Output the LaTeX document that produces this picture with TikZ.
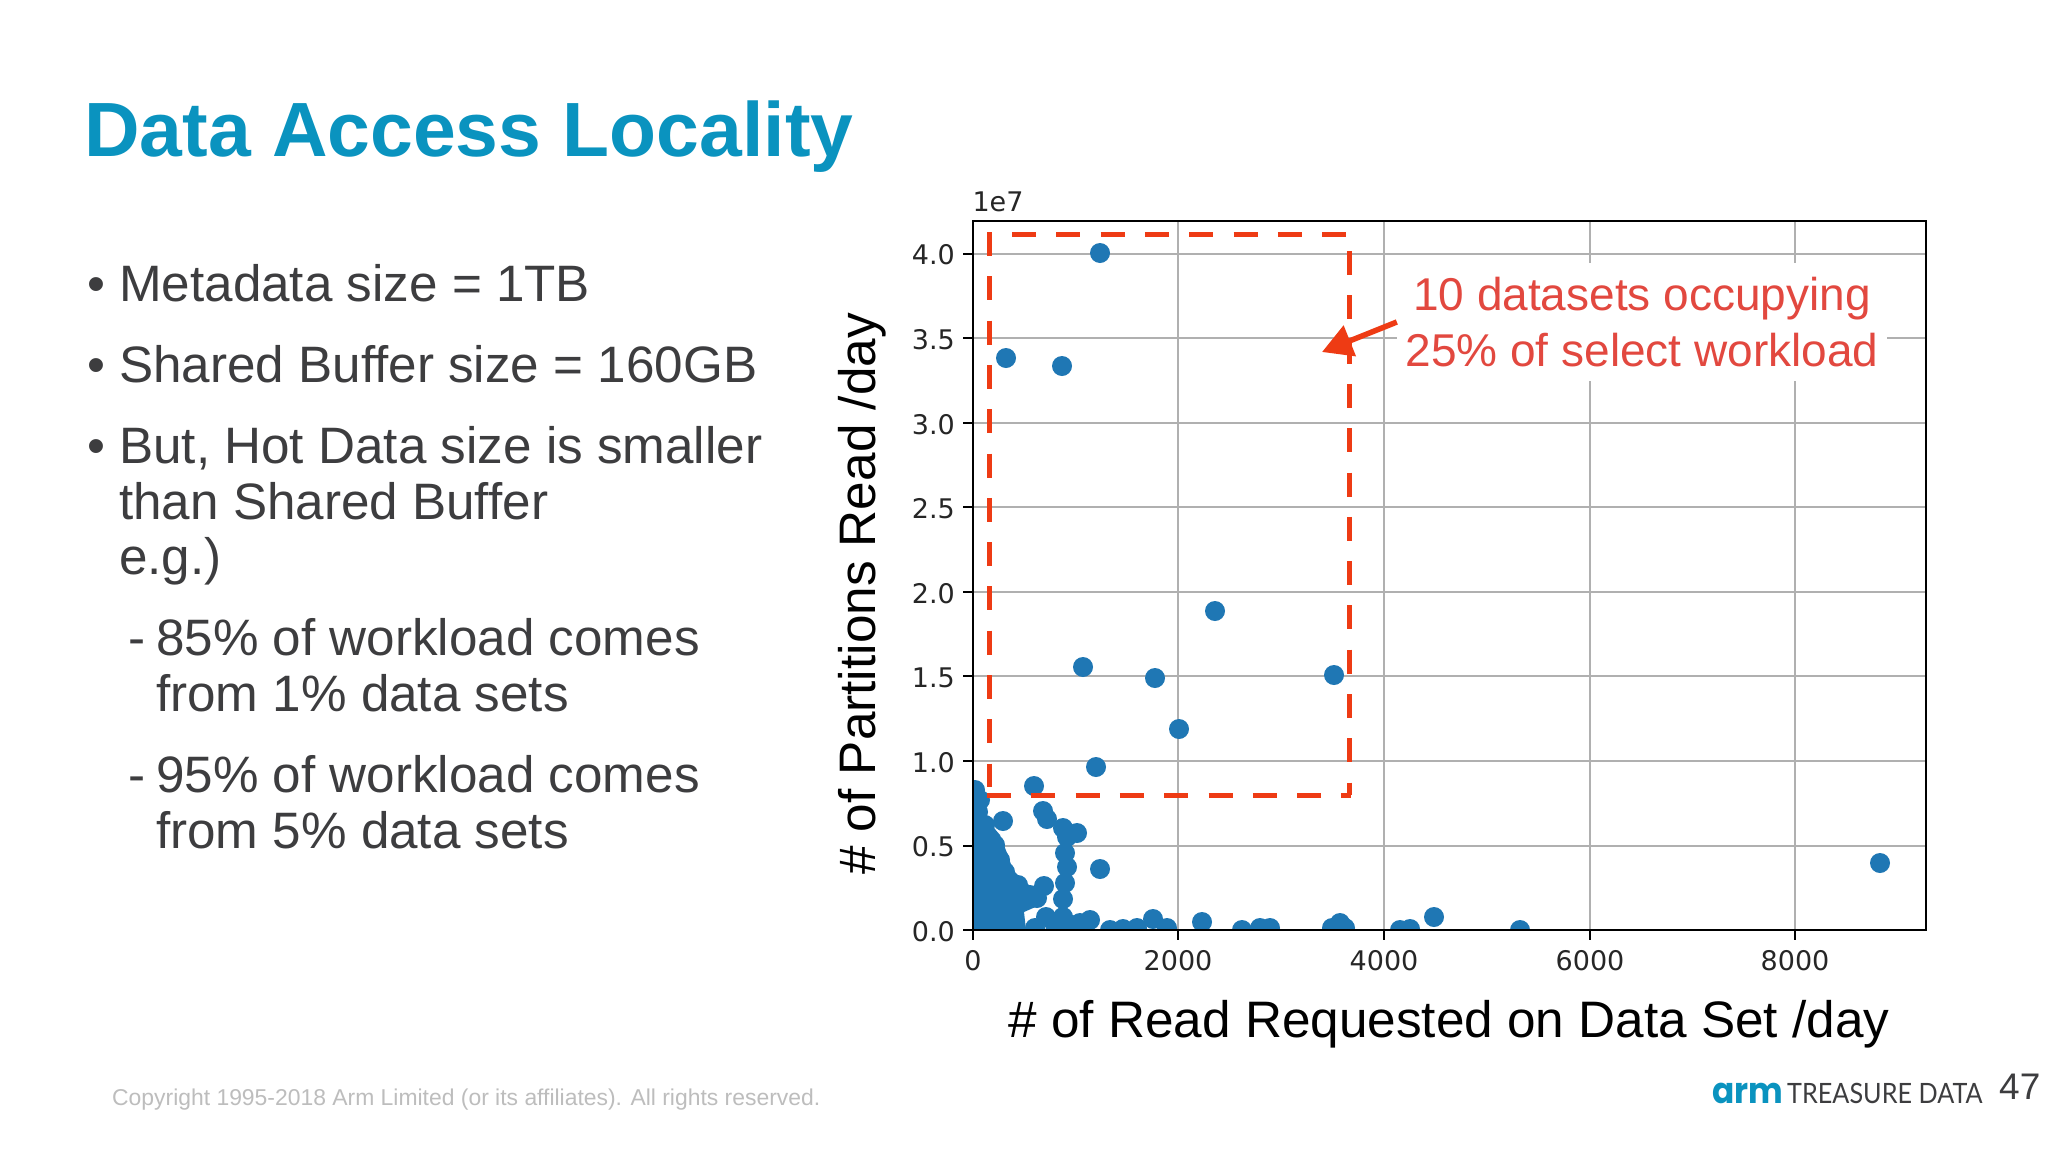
\documentclass[tikz,border=0pt]{standalone}
\usepackage{fontspec}
\setmainfont{Liberation Sans}
\newfontfamily\ticksfont{DejaVu Sans}
\newfontfamily\logofont{Poppins}
\newfontfamily\logotextfont{Lato}
\usetikzlibrary{arrows.meta,calc}
\definecolor{titleblue}{HTML}{0A93BF}
\definecolor{bodygray}{HTML}{3D3D3F}
\definecolor{dotblue}{HTML}{1F77B4}
\definecolor{gridgray}{HTML}{B0B0B0}
\definecolor{boxred}{HTML}{EE3B14}
\definecolor{notered}{HTML}{E2483F}
\definecolor{footgray}{HTML}{BDBDBD}
\tikzstyle{lineh}=[inner sep=0pt, anchor=base west]
\tikzstyle{body}=[lineh, text=bodygray, font=\fontsize{51.2}{56}\selectfont]
\tikzstyle{tick}=[inner sep=0pt, text=black!85, font=\ticksfont\fontsize{27}{30}\selectfont]
\tikzstyle{axlabel}=[inner sep=0pt, text=black, font=\fontsize{51.3}{56}\selectfont]
\tikzstyle{dashbox}=[boxred, line width=5pt, dash pattern=on 24pt off 20.3pt]
\begin{document}
\begin{tikzpicture}[x=1pt, y=-1pt]
\useasboundingbox (0,0) rectangle (2048,1152);
\fill[white] (0,0) rectangle (2048,1152);

% title and bullets
\node(title)[lineh, text=titleblue, font=\bfseries\fontsize{76.9}{80}\selectfont] at (84,156) {Data Access Locality};
\node(dot1)[body] at (87,301.5) {•};
\node(item1)[body] at (119,301.5) {Metadata size = 1TB};
\node(dot2)[body] at (87,382.5) {•};
\node(item2)[body] at (119,382.5) {Shared Buffer size = 160GB};
\node(dot3)[body] at (87,463.5) {•};
\node(item3a)[body] at (119,463.5) {But, Hot Data size is smaller};
\node(item3b)[body] at (119,519.5) {than Shared Buffer};
\node(item3c)[body] at (119,574.5) {e.g.)};
\node(dash1)[body] at (128,655.5) {-};
\node(sub1a)[body] at (156,655.5) {85\% of workload comes};
\node(sub1b)[body] at (156,711) {from 1\% data sets};
\node(dash2)[body] at (128,792.5) {-};
\node(sub2a)[body] at (156,792.5) {95\% of workload comes};
\node(sub2b)[body] at (156,848) {from 5\% data sets};

% grid and ticks
\foreach \xx/\xlab in {973/0,1178/2000,1384/4000,1590/6000,1795/8000}{
  \draw[gridgray, line width=2pt] (\xx,221) -- (\xx,930);
  \draw[black, line width=2pt] (\xx,930) -- (\xx,940);
  \node(xtick\xlab)[tick] at (\xx,961) {\xlab};
}
\foreach \yy/\ylab [count=\n] in {930/0.0,845.5/0.5,761/1.0,676/1.5,592/2.0,507/2.5,423/3.0,338/3.5,253.5/4.0}{
  \draw[gridgray, line width=2pt] (973,\yy) -- (1926,\yy);
  \draw[black, line width=2pt] (963,\yy) -- (973,\yy);
  \node(ytick\n)[tick, anchor=east] at (955,\yy+1.5) {\ylab};
}
\node(offset)[tick] at (998,202) {1e7};

% data points
\begin{scope}
\clip (973,221) rectangle (1926,930);
\fill[dotblue] (973,930) -- (973,815) -- (983,815) -- (1000,835) -- (1007,853) -- (1013,870) -- (1025,882) -- (1040,893) -- (1040,905) -- (1024,912) -- (1026,930) -- cycle;
\foreach \px/\py in {975/790,980/800,978/812,985/825,995/845,1000/860,1005/872,1018/885,1030/895,1037/898,
  1100/253,1006/358,1062/366,1215/611,1334/675,1083/667,1155/678,1179/729,1096/767,1880/863,1434/917,1520/930,
  1034/786,1003/821,1043/811,1047/819,1063/828,1077/833,1067/837,1065/853,1067/867,1100/869,1065/883,1063/899,
  1044/886,1046/917,1063/917,1090/920,1153/919,1167/928,1202/922,1242/930,1260/928,1270/928,1332/928,1340/923,
  1345/928,1400/930,1410/929,1110/930,1123/929,1137/928,1080/923,1055/925,1072/925,1035/928}{
  \fill[dotblue] (\px,\py) circle (10pt);
}
\end{scope}

% axes frame
\draw[black, line width=2.5pt] (973,221) rectangle (1926,930);

% red annotation
\coordinate(boxtop1) at (1012,234);
\coordinate(boxtop2) at (1346,234);
\coordinate(boxright1) at (1349,251);
\coordinate(boxright2) at (1349,795);
\coordinate(boxbot1) at (987,795);
\coordinate(boxbot2) at (1351,795);
\coordinate(boxleft1) at (989,232);
\coordinate(boxleft2) at (989,787);
\draw[dashbox] (boxtop1) -- (boxtop2);
\draw[dashbox] (boxright1) -- (boxright2);
\draw[dashbox] (boxbot1) -- (boxbot2);
\draw[dashbox] (boxleft1) -- (boxleft2);
\node(note)[fill=white, inner sep=0pt, minimum width=490pt, minimum height=118pt, text=notered, align=center, font=\fontsize{46}{56}\selectfont] at (1642,322) {10 datasets occupying\\25\% of select workload};
\coordinate(notetip) at (1322,352);
\draw[-{Triangle[length=30pt,width=32pt]}, boxred, line width=5.5pt] (note.west) -- (notetip);

% axis labels
\node(ylabel)[axlabel, rotate=90] at (862,594) {\# of Partitions Read /day};
\node(xlabel)[axlabel] at (1449,1024) {\# of Read Requested on Data Set /day};

% footer
\node(copyright)[lineh, text=footgray, font=\fontsize{22.9}{26}\selectfont] at (112,1105) {Copyright 1995-2018 Arm Limited (or its affiliates). All rights reserved.};
\node(armlogo)[lineh, text=titleblue, xscale=0.91, font=\logofont\bfseries\fontsize{36}{40}\selectfont] at (1712,1103) {arm};
\node(tdlogo)[lineh, text=bodygray, xscale=0.9, font=\logotextfont\fontsize{28}{30}\selectfont] at (1787,1103) {TREASURE DATA};
\node(pageno)[lineh, text=bodygray, font=\fontsize{37}{40}\selectfont] at (1999,1099) {47};
\end{tikzpicture}
\end{document}
